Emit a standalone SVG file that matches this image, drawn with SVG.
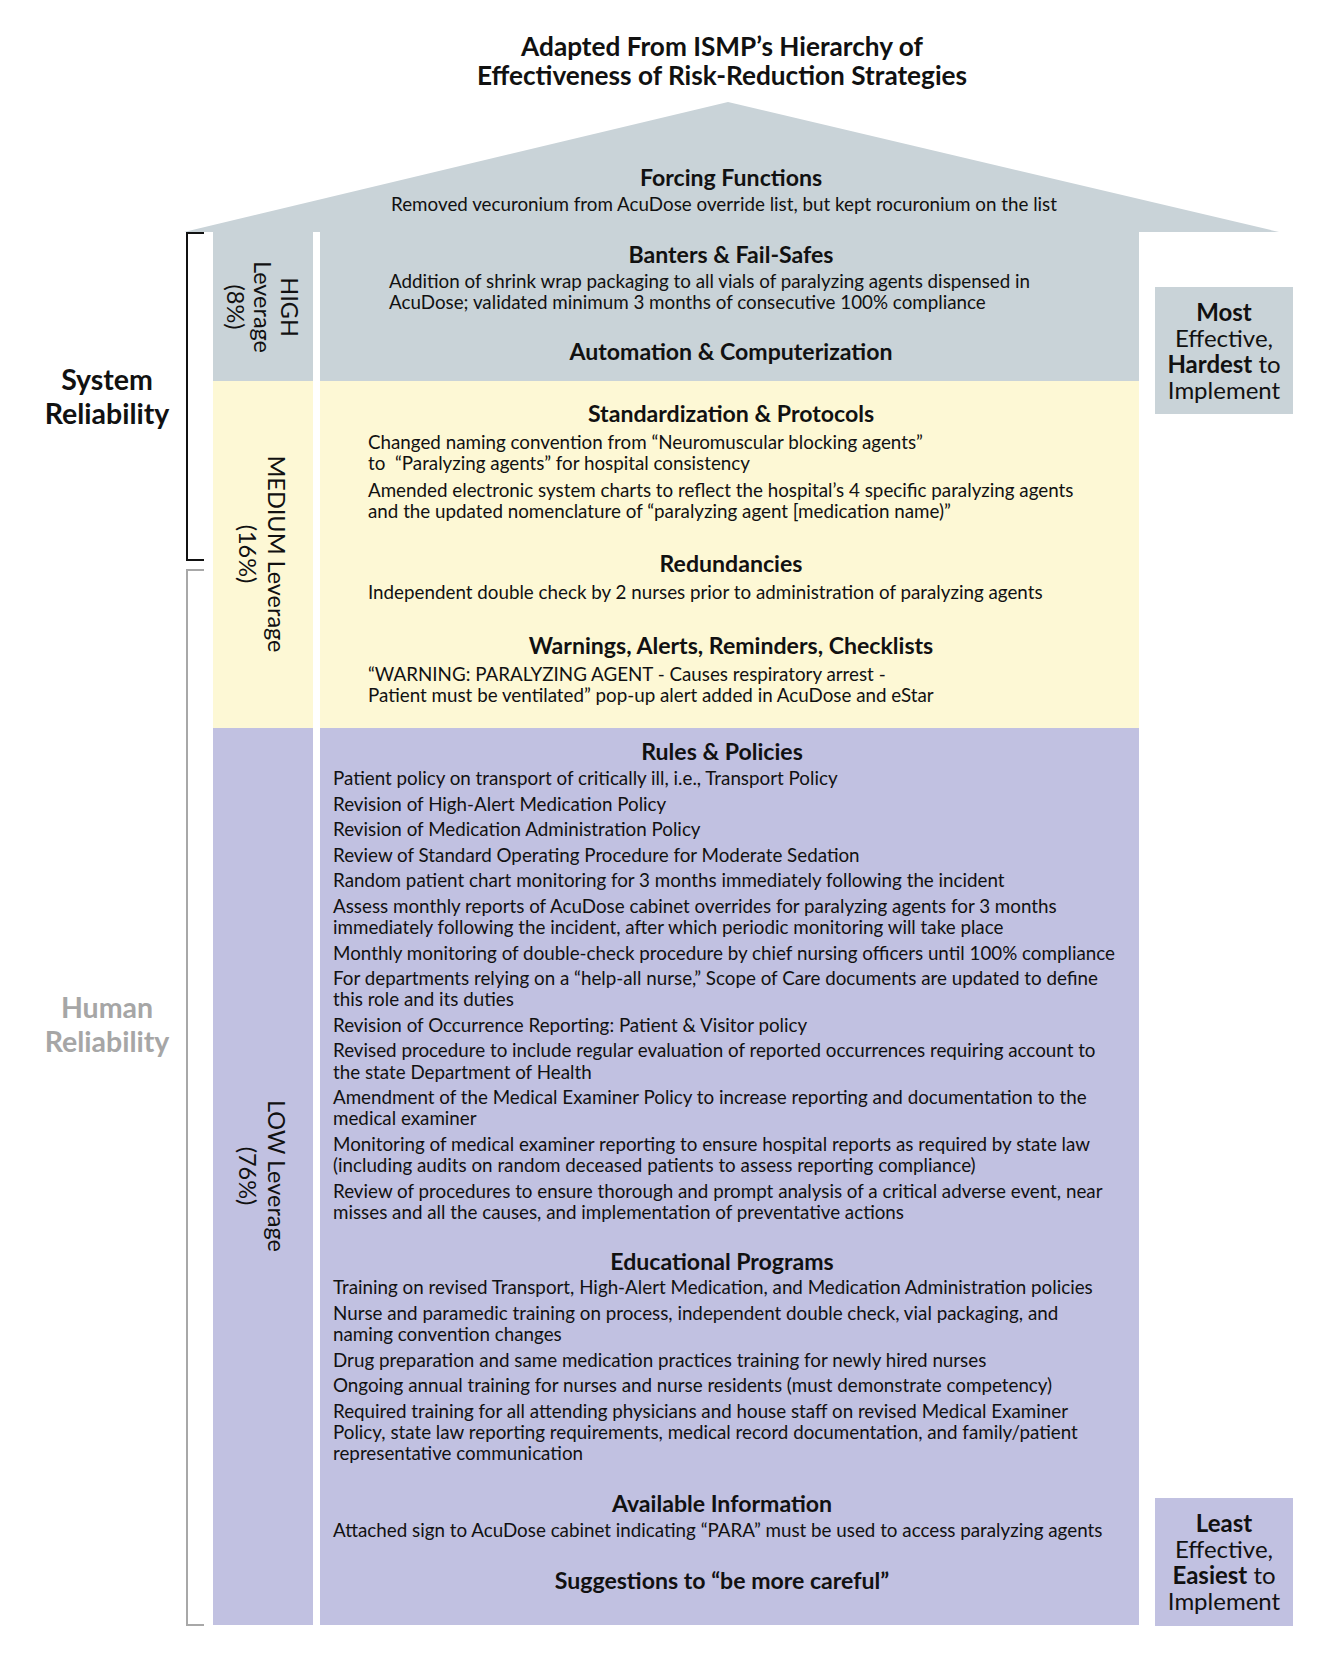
<svg xmlns="http://www.w3.org/2000/svg" width="1334" height="1667" viewBox="0 0 1334 1667">
<style>
text{font-family:Lato,"Open Sans","Liberation Sans",sans-serif;fill:#111;}
.t{font-size:26.2px;font-weight:700;text-anchor:middle;}
.h{font-size:23.1px;font-weight:700;text-anchor:middle;}
.b{font-size:18.8px;}
.lv{font-size:23.5px;text-anchor:middle;}
.rel{font-size:28.5px;font-weight:700;text-anchor:middle;}
.gray{fill:#a6a6a6;}
.box{font-size:24px;text-anchor:middle;}
.bold{font-weight:700;}
.g{fill:#c9d3d8;}
.y{fill:#fdf8d5;}
.p{fill:#c1c1e1;}
</style>
<rect width="1334" height="1667" fill="#ffffff"/>
<g id="title">
<text class="t" x="722" y="56">Adapted From ISMP’s Hierarchy of</text>
<text class="t" x="722" y="85">Effectiveness of Risk-Reduction Strategies</text>
</g>
<g id="high">
<polygon class="g" points="184,232 728,102 1279,232"/>
<rect class="g" x="213" y="231" width="100" height="150"/>
<rect class="g" x="320" y="231" width="819" height="150"/>
<text class="h" x="731" y="186">Forcing Functions</text>
<text class="b" x="724" y="211" text-anchor="middle">Removed vecuronium from AcuDose override list, but kept rocuronium on the list</text>
<text class="h" x="731" y="263">Banters &amp; Fail-Safes</text>
<text class="b" x="389" y="288">Addition of shrink wrap packaging to all vials of paralyzing agents dispensed in</text>
<text class="b" x="389" y="309">AcuDose; validated minimum 3 months of consecutive 100% compliance</text>
<text class="h" x="731" y="360">Automation &amp; Computerization</text>
<text class="lv" transform="translate(281,307) rotate(90)">HIGH</text>
<text class="lv" transform="translate(254,307) rotate(90)">Leverage</text>
<text class="lv" transform="translate(226.5,307) rotate(90)">(8%)</text>
</g>
<g id="medium">
<rect class="y" x="213" y="381" width="100" height="347"/>
<rect class="y" x="320" y="381" width="819" height="347"/>
<text class="h" x="731" y="422">Standardization &amp; Protocols</text>
<text class="b" x="368" y="449">Changed naming convention from “Neuromuscular blocking agents”</text>
<text class="b" x="368" y="470" xml:space="preserve">to  “Paralyzing agents” for hospital consistency</text>
<text class="b" x="368" y="497">Amended electronic system charts to reflect the hospital’s 4 specific paralyzing agents</text>
<text class="b" x="368" y="518">and the updated nomenclature of “paralyzing agent [medication name)”</text>
<text class="h" x="731" y="572">Redundancies</text>
<text class="b" x="368" y="599">Independent double check by 2 nurses prior to administration of paralyzing agents</text>
<text class="h" x="731" y="654">Warnings, Alerts, Reminders, Checklists</text>
<text class="b" x="368" y="681">“WARNING: PARALYZING AGENT - Causes respiratory arrest -</text>
<text class="b" x="368" y="702">Patient must be ventilated” pop-up alert added in AcuDose and eStar</text>
<text class="lv" transform="translate(267.5,554) rotate(90)">MEDIUM Leverage</text>
<text class="lv" transform="translate(238.5,554) rotate(90)">(16%)</text>
</g>
<g id="low">
<rect class="p" x="213" y="728" width="100" height="897"/>
<rect class="p" x="320" y="728" width="819" height="897"/>
<text class="h" x="722" y="760">Rules &amp; Policies</text>
<text class="b" x="333" y="785">Patient policy on transport of critically ill, i.e., Transport Policy</text>
<text class="b" x="333" y="810.5">Revision of High-Alert Medication Policy</text>
<text class="b" x="333" y="836">Revision of Medication Administration Policy</text>
<text class="b" x="333" y="861.5">Review of Standard Operating Procedure for Moderate Sedation</text>
<text class="b" x="333" y="887">Random patient chart monitoring for 3 months immediately following the incident</text>
<text class="b" x="333" y="912.5">Assess monthly reports of AcuDose cabinet overrides for paralyzing agents for 3 months</text>
<text class="b" x="333" y="934">immediately following the incident, after which periodic monitoring will take place</text>
<text class="b" x="333" y="959.5">Monthly monitoring of double-check procedure by chief nursing officers until 100% compliance</text>
<text class="b" x="333" y="985">For departments relying on a “help-all nurse,” Scope of Care documents are updated to define</text>
<text class="b" x="333" y="1006">this role and its duties</text>
<text class="b" x="333" y="1031.5">Revision of Occurrence Reporting: Patient &amp; Visitor policy</text>
<text class="b" x="333" y="1057">Revised procedure to include regular evaluation of reported occurrences requiring account to</text>
<text class="b" x="333" y="1078.5">the state Department of Health</text>
<text class="b" x="333" y="1104">Amendment of the Medical Examiner Policy to increase reporting and documentation to the</text>
<text class="b" x="333" y="1125">medical examiner</text>
<text class="b" x="333" y="1150.5">Monitoring of medical examiner reporting to ensure hospital reports as required by state law</text>
<text class="b" x="333" y="1172">(including audits on random deceased patients to assess reporting compliance)</text>
<text class="b" x="333" y="1197.5">Review of procedures to ensure thorough and prompt analysis of a critical adverse event, near</text>
<text class="b" x="333" y="1218.5">misses and all the causes, and implementation of preventative actions</text>
<text class="h" x="722" y="1269.5">Educational Programs</text>
<text class="b" x="333" y="1294">Training on revised Transport, High-Alert Medication, and Medication Administration policies</text>
<text class="b" x="333" y="1319.5">Nurse and paramedic training on process, independent double check, vial packaging, and</text>
<text class="b" x="333" y="1341">naming convention changes</text>
<text class="b" x="333" y="1366.5">Drug preparation and same medication practices training for newly hired nurses</text>
<text class="b" x="333" y="1392">Ongoing annual training for nurses and nurse residents (must demonstrate competency)</text>
<text class="b" x="333" y="1417.5">Required training for all attending physicians and house staff on revised Medical Examiner</text>
<text class="b" x="333" y="1439">Policy, state law reporting requirements, medical record documentation, and family/patient</text>
<text class="b" x="333" y="1460">representative communication</text>
<text class="h" x="722" y="1512">Available Information</text>
<text class="b" x="333" y="1536.5">Attached sign to AcuDose cabinet indicating “PARA” must be used to access paralyzing agents</text>
<text class="h" x="722" y="1588.5">Suggestions to “be more careful”</text>
<text class="lv" transform="translate(267.5,1176) rotate(90)">LOW Leverage</text>
<text class="lv" transform="translate(238.5,1176) rotate(90)">(76%)</text>
</g>
<g id="system-reliability">
<text class="rel" x="107" y="390">System</text>
<text class="rel" x="107" y="424">Reliability</text>
</g>
<g id="human-reliability">
<text class="rel gray" x="107" y="1018">Human</text>
<text class="rel gray" x="107" y="1052">Reliability</text>
</g>
<g id="most-box">
<rect class="g" x="1155" y="287" width="138" height="127"/>
<text class="box" x="1224" y="320.5"><tspan class="bold">Most</tspan></text>
<text class="box" x="1224" y="346.5">Effective,</text>
<text class="box" x="1224" y="372.5"><tspan class="bold">Hardest</tspan> to</text>
<text class="box" x="1224" y="398.5">Implement</text>
</g>
<g id="least-box">
<rect class="p" x="1155" y="1498" width="138" height="128"/>
<text class="box" x="1224" y="1532"><tspan class="bold">Least</tspan></text>
<text class="box" x="1224" y="1558">Effective,</text>
<text class="box" x="1224" y="1584"><tspan class="bold">Easiest</tspan> to</text>
<text class="box" x="1224" y="1610">Implement</text>
</g>
<g id="connectors" fill="none" stroke-width="2">
<path d="M204,233 H187 V560 H204" stroke="#111"/>
<path d="M204,570 H187 V1625 H204" stroke="#a8a8a8"/>
</g>
</svg>
